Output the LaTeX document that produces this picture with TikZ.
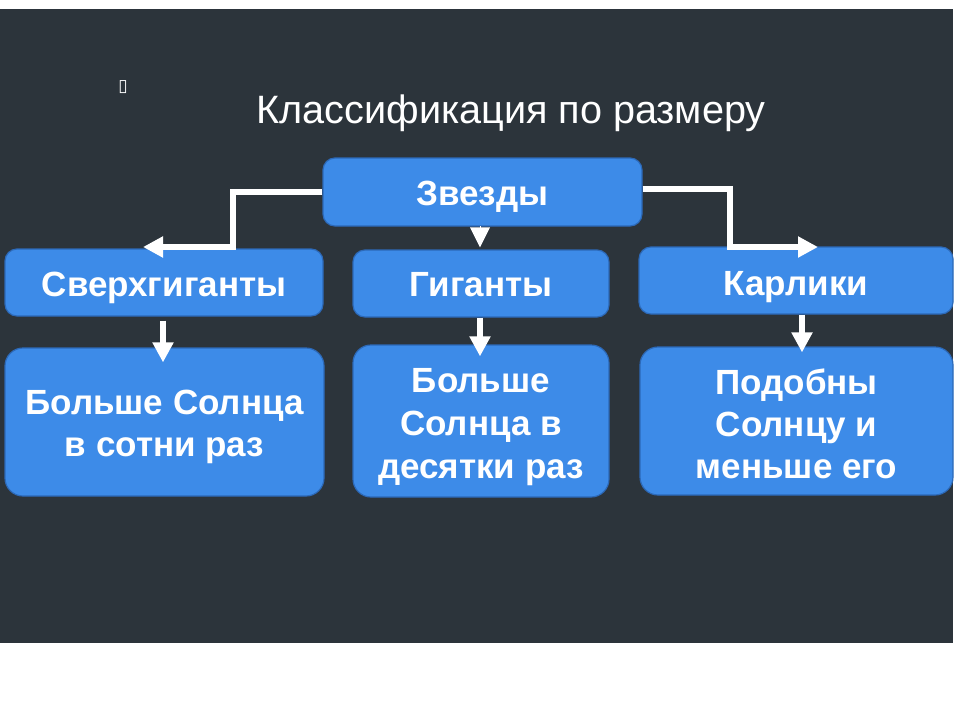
\documentclass[tikz,border=0pt]{standalone}
\usepackage{fontspec}
\setmainfont{Liberation Sans}
\newfontfamily\symfont{DejaVu Sans}
\usetikzlibrary{arrows.meta}
\definecolor{bgdark}{HTML}{2C343B}
\definecolor{boxblue}{HTML}{3D8BE8}
\definecolor{boxedge}{HTML}{2C69B8}
\tikzset{
  bx/.style={draw=boxedge, line width=1.2pt, fill=boxblue, rounded corners=12pt,
    inner sep=0pt, text=white, align=center, text depth=0pt,
    font=\bfseries\fontsize{35}{42}\selectfont},
  bigbx/.style={bx, rounded corners=18pt},
  arr/.style={draw=white, line width=6pt,
    -{Triangle[length=20pt,width=20pt]}},
}
\begin{document}
\begin{tikzpicture}[x=1pt,y=-1pt]
\useasboundingbox (0,0) rectangle (960,720);
\fill[white] (0,0) rectangle (960,720);
\fill[bgdark] (0,9) rectangle (953,643);

\node[text=white, font=\symfont\fontsize{17}{19}\selectfont] (tofu) at (123,87) {▯};
\node[text=white, anchor=base, font=\fontsize{39.6}{46}\selectfont] (title) at (511,123) {Классификация по размеру};

\node[bx, text height=27pt, minimum width=319pt, minimum height=68pt] (zv) at (482.5,192) {Звезды};
\node[bx, text height=28pt, minimum width=318pt, minimum height=67pt] (sg) at (164,282.5) {Сверхгиганты};
\node[bx, text height=26pt, minimum width=256pt, minimum height=67pt] (gi) at (481,283.5) {Гиганты};
\node[bx, text height=30pt, minimum width=314pt, minimum height=67pt] (ka) at (796,280.5) {Карлики};

\node[bigbx, text height=69pt, minimum width=319pt, minimum height=148pt] (bl) at (164.5,422) {Больше Солнца\\в сотни раз};
\node[bigbx, text height=115pt, font=\bfseries\fontsize{35}{43}\selectfont, minimum width=256pt, minimum height=152pt] (bm) at (481,421) {Больше\\Солнца в\\десятки раз};
\node[bigbx, text height=115pt, minimum width=313pt, minimum height=148pt] (br) at (796.5,421) {Подобны\\Солнцу и\\меньше его};

% connectors
\coordinate (tipL) at (143,247);
\coordinate (tipR) at (818,247);
\draw[arr] (zv.west) -- (233,192) |- (tipL);
\draw[arr] ([yshift=3pt]zv.east) -- (730,189) |- (tipR);
\draw[arr, line width=0pt] (zv.south -| 480,0) -- ([yshift=2pt]gi.north -| 480,0);
\draw[arr] ([yshift=-4pt]sg.south -| 163,0) -- ([yshift=-15pt]bl.north -| 163,0);
\draw[arr] ([yshift=-0pt]gi.south -| 480,0) -- ([yshift=-12pt]bm.north -| 480,0);
\draw[arr] ([yshift=-0pt]ka.south -| 802,0) -- ([yshift=-6pt]br.north -| 802,0);
\end{tikzpicture}
\end{document}
